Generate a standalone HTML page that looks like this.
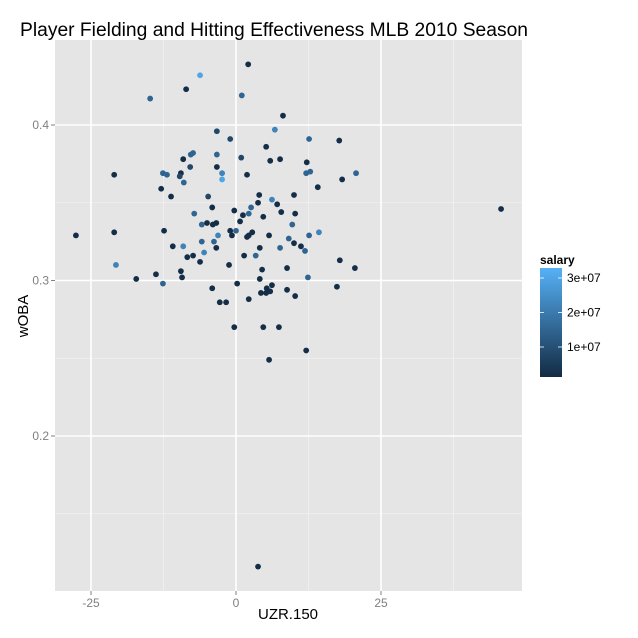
<!DOCTYPE html>
<html><head><meta charset="utf-8"><style>
html,body{margin:0;padding:0;background:#fff;}
svg{display:block;font-family:"Liberation Sans",Arial,sans-serif;}
</style></head><body>
<svg id="chart" width="638" height="638" viewBox="0 0 638 638" xmlns="http://www.w3.org/2000/svg">
  <defs>
    <linearGradient id="salgrad" x1="0" y1="1" x2="0" y2="0">
      <stop offset="0" stop-color="#132B43"/>
      <stop offset="1" stop-color="#56B1F7"/>
    </linearGradient>
  </defs>
  <text x="20" y="36" font-size="19" textLength="508" lengthAdjust="spacingAndGlyphs" fill="#000">Player Fielding and Hitting Effectiveness MLB 2010 Season</text>
  <rect x="55" y="40" width="467" height="551" fill="#e5e5e5"/>
  <g id="grid"></g>
  <g id="points"></g>
  <g id="axes"></g>
  <text x="288" y="619" font-size="15" text-anchor="middle" fill="#000">UZR.150</text>
  <text transform="translate(28,316) rotate(-90)" font-size="15" text-anchor="middle" fill="#000">wOBA</text>
  <g id="legend">
    <text x="540" y="264" font-size="12" font-weight="bold" fill="#000">salary</text>
    <rect x="540" y="268" width="22" height="109" fill="url(#salgrad)"/>
  </g>
</svg>
<script>
const uzr = [-6.2,-8.6,-14.8,-3.3,-1.0,0.9,-7.8,-7.4,-9.1,-3.3,-7.9,-3.3,-21.0,-12.6,-11.9,-9.5,-9.7,-9.0,-2.4,-2.4,-12.9,-11.2,-4.8,-4.1,-0.3,-7.2,
2.1,1.0,8.1,6.7,12.6,17.8,5.2,1.9,5.9,7.6,12.2,12.1,12.8,20.7,18.3,14.1,4.0,10.0,6.2,3.8,7.1,2.6,2.2,1.2,7.8,10.2,4.7,0.7,
-27.6,-21.0,-12.4,-5.9,-5.0,-4.0,-3.4,-1.0,0.0,-0.7,-3.1,-10.9,-9.1,-5.9,-3.8,-3.4,-5.5,-8.4,-7.4,-6.2,-1.2,-20.7,-9.5,-9.3,-13.8,-17.2,-12.6,0.2,-4.1,-2.8,-1.7,-0.3,
9.7,1.9,2.2,2.8,5.7,12.6,14.3,9.1,10.0,11.2,11.9,7.6,4.1,1.4,3.4,17.9,20.5,4.5,8.8,4.1,12.4,6.2,5.3,5.9,5.2,4.3,8.8,10.2,17.4,2.2,4.7,7.4,12.1,5.7,45.7,3.8];
const woba = [0.432,0.423,0.417,0.396,0.391,0.379,0.381,0.382,0.378,0.381,0.373,0.373,0.368,0.369,0.368,0.369,0.367,0.363,0.369,0.365,0.359,0.354,0.354,0.347,0.345,0.343,
0.439,0.419,0.406,0.397,0.391,0.390,0.386,0.368,0.377,0.378,0.376,0.369,0.370,0.369,0.365,0.360,0.355,0.355,0.352,0.350,0.349,0.347,0.343,0.342,0.344,0.343,0.341,0.338,
0.329,0.331,0.332,0.336,0.337,0.336,0.337,0.332,0.332,0.329,0.329,0.322,0.322,0.325,0.325,0.321,0.318,0.315,0.316,0.312,0.310,0.310,0.306,0.302,0.304,0.301,0.298,0.298,0.295,0.286,0.286,0.270,
0.336,0.328,0.329,0.331,0.329,0.329,0.331,0.327,0.324,0.322,0.319,0.321,0.321,0.316,0.316,0.313,0.308,0.307,0.308,0.301,0.302,0.297,0.295,0.293,0.292,0.292,0.294,0.290,0.296,0.288,0.270,0.270,0.255,0.249,0.346,0.116];
const salaryM = [30,2,15,8,8,8,15,15,2,15,8,2,2,15,15,2,8,15,22,30,2,2,8,2,2,15,
2,15,2,22,15,2,2,2,2,2,2,15,15,15,2,2,2,2,22,2,2,15,15,2,2,2,2,2,
2,2,2,15,2,2,2,2,15,2,22,2,22,15,15,2,22,2,2,2,2,22,2,2,2,2,15,2,2,2,2,2,
15,2,2,2,2,15,22,15,2,2,15,15,2,2,15,2,2,2,2,2,15,2,2,2,2,2,2,2,2,2,2,2,2,2,2,2];
const xTicks = [-25, 0, 25];
const xMinor = [-12.5, 12.5, 37.5];
const yTicks = [0.2, 0.3, 0.4];
const yMinor = [0.15, 0.25, 0.35];
const legendTicks = [10, 20, 30];
const legendLabels = ["1e+07","2e+07","3e+07"];

const NS = "http://www.w3.org/2000/svg";
const X0 = 55, X1 = 522, Y0 = 40, Y1 = 591;
function xs(v){ return 236 + v * 5.8; }
function ys(v){ return 125 - (v - 0.4) * 1555; }
const SMIN = 1.3, SMAX = 32.9;
function ls(v){ return 377 - (v - SMIN) / (SMAX - SMIN) * 109; }
function col(s){
  const t = Math.max(0, Math.min(1, (s - SMIN) / (SMAX - SMIN)));
  const a = [0x13,0x2B,0x43], b = [0x56,0xB1,0xF7];
  return "rgb(" + a.map((c,i)=>Math.round(c + (b[i]-c)*t)).join(",") + ")";
}
function mk(tag, attrs, parent){
  const e = document.createElementNS(NS, tag);
  for (const k in attrs) e.setAttribute(k, attrs[k]);
  parent.appendChild(e);
  return e;
}
const grid = document.getElementById("grid");
const axes = document.getElementById("axes");
const pts = document.getElementById("points");
const leg = document.getElementById("legend");

xMinor.forEach(v => {
  const l = mk("line", {x1:xs(v), x2:xs(v), y1:Y0, y2:Y1, stroke:"#f2f2f2", "stroke-width":0.8}, grid);
  
  
});
yMinor.forEach(v => {
  const l = mk("line", {x1:X0, x2:X1, y1:ys(v), y2:ys(v), stroke:"#f2f2f2", "stroke-width":0.8}, grid);
  
  
});
xTicks.forEach(v => {
  const l = mk("line", {x1:xs(v), x2:xs(v), y1:Y0, y2:Y1, stroke:"#fff", "stroke-width":1.6}, grid);
  
  
  const t = mk("line", {x1:xs(v), x2:xs(v), y1:Y1, y2:Y1+4, stroke:"#7f7f7f", "stroke-width":1}, axes);
  
  
  const tx = mk("text", {x:xs(v), y:Y1+16, "font-size":12, "text-anchor":"middle", fill:"#7f7f7f"}, axes);
  tx.textContent = String(v);
  
  
});
yTicks.forEach(v => {
  const l = mk("line", {x1:X0, x2:X1, y1:ys(v), y2:ys(v), stroke:"#fff", "stroke-width":1.6}, grid);
  
  
  const t = mk("line", {x1:X0-4, x2:X0, y1:ys(v), y2:ys(v), stroke:"#7f7f7f", "stroke-width":1}, axes);
  
  
  const tx = mk("text", {x:X0-6, y:ys(v)+4, "font-size":12, "text-anchor":"end", fill:"#7f7f7f"}, axes);
  tx.textContent = v.toFixed(1);
  
  
});
uzr.forEach((u, i) => {
  const c = mk("circle", {cx:xs(u), cy:ys(woba[i]), r:2.9, fill:col(salaryM[i])}, pts);
  
  
});
legendTicks.forEach((v, i) => {
  const y = ls(v);
  const a = mk("line", {x1:540, x2:544, y1:y, y2:y, stroke:"#fff", "stroke-width":0.8}, leg);
  
  
  const b = mk("line", {x1:558, x2:562, y1:y, y2:y, stroke:"#fff", "stroke-width":0.8}, leg);
  
  
  const t = mk("text", {x:567, y:y+4, "font-size":12, fill:"#000"}, leg);
  t.textContent = legendLabels[i];
  
  
});
</script>
</body></html>
